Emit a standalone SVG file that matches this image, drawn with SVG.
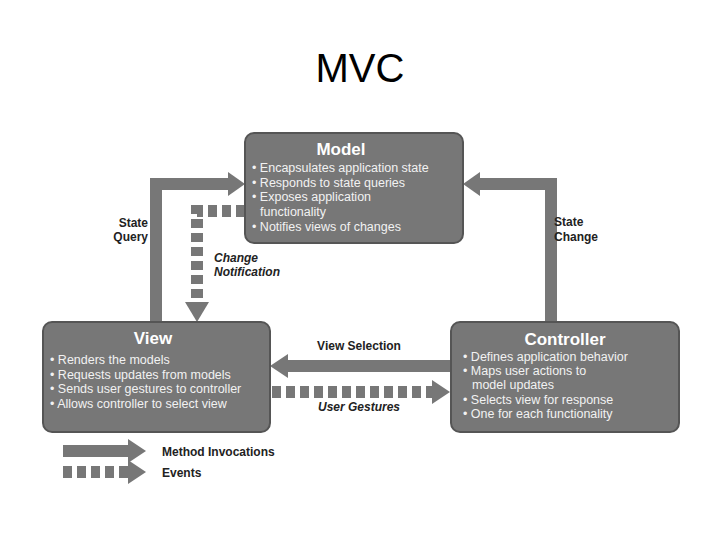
<svg xmlns="http://www.w3.org/2000/svg" width="720" height="540" viewBox="0 0 720 540">
<style>
.box{fill:#777;stroke:#555;stroke-width:2}
.h{font-family:"Liberation Sans",Arial,sans-serif;font-weight:bold;font-size:17px;fill:#fff;text-anchor:middle}
.b{font-family:"Liberation Sans",Arial,sans-serif;font-size:12.5px;fill:#f2f2f2}
.l{font-family:"Liberation Sans",Arial,sans-serif;font-weight:bold;font-size:12px;fill:#222}
.li{font-family:"Liberation Sans",Arial,sans-serif;font-weight:bold;font-style:italic;font-size:12px;fill:#222}
.s{fill:none;stroke:#777;stroke-width:12}
.d{fill:none;stroke:#777;stroke-width:12;stroke-dasharray:9 5}
.ah{fill:#777}
</style>
<rect width="720" height="540" fill="#fff"/>
<text x="360" y="82" font-family="Liberation Sans,Arial,sans-serif" font-size="40" text-anchor="middle" fill="#000">MVC</text>
<g id="connectors">
<path class="s" d="M156,322 V184 H228"/><polygon class="ah" points="228,172 245,184 228,196"/>
<path class="s" d="M551,322 V184 H480"/><polygon class="ah" points="480,172 463,184 480,196"/>
<path class="d" d="M245,211 H197 V302"/><polygon class="ah" points="185,302 197,322 209,302"/>
<path class="s" d="M450,366 H288"/><polygon class="ah" points="288,354 270,366 288,378"/>
<path class="d" d="M272,392 H432"/><polygon class="ah" points="432,380 450,392 432,404"/>
<path class="s" d="M63,451 H128"/><polygon class="ah" points="128,439 146,451 128,463"/>
<path class="d" d="M63,472 H128"/><polygon class="ah" points="128,460 146,472 128,484"/>
<text class="l" x="148" y="227" text-anchor="end">State</text>
<text class="l" x="148" y="241" text-anchor="end">Query</text>
<text class="l" x="554" y="226">State</text>
<text class="l" x="554" y="241">Change</text>
<text class="li" x="214" y="262">Change</text>
<text class="li" x="214" y="276">Notification</text>
<text class="l" x="359" y="350" text-anchor="middle">View Selection</text>
<text class="li" x="359" y="411" text-anchor="middle">User Gestures</text>
<text class="l" x="162" y="456">Method Invocations</text>
<text class="l" x="162" y="477">Events</text>
</g>
<g id="model">
<rect class="box" x="245" y="133" width="218" height="110" rx="9"/>
<text class="h" x="341" y="155">Model</text>
<text class="b" x="252" y="172">• Encapsulates application state</text>
<text class="b" x="252" y="187">• Responds to state queries</text>
<text class="b" x="252" y="201">• Exposes application</text>
<text class="b" x="260" y="216">functionality</text>
<text class="b" x="252" y="231">• Notifies views of changes</text>
</g>
<g id="view">
<rect class="box" x="43" y="322" width="227" height="110" rx="9"/>
<text class="h" x="153" y="344">View</text>
<text class="b" x="50" y="364">• Renders the models</text>
<text class="b" x="50" y="379">• Requests updates from models</text>
<text class="b" x="50" y="393">• Sends user gestures to controller</text>
<text class="b" x="50" y="408">• Allows controller to select view</text>
</g>
<g id="controller">
<rect class="box" x="451" y="322" width="228" height="110" rx="9"/>
<text class="h" x="565" y="345">Controller</text>
<text class="b" x="463" y="361">• Defines application behavior</text>
<text class="b" x="463" y="375">• Maps user actions to</text>
<text class="b" x="472" y="389">model updates</text>
<text class="b" x="463" y="404">• Selects view for response</text>
<text class="b" x="463" y="418">• One for each functionality</text>
</g>
</svg>
